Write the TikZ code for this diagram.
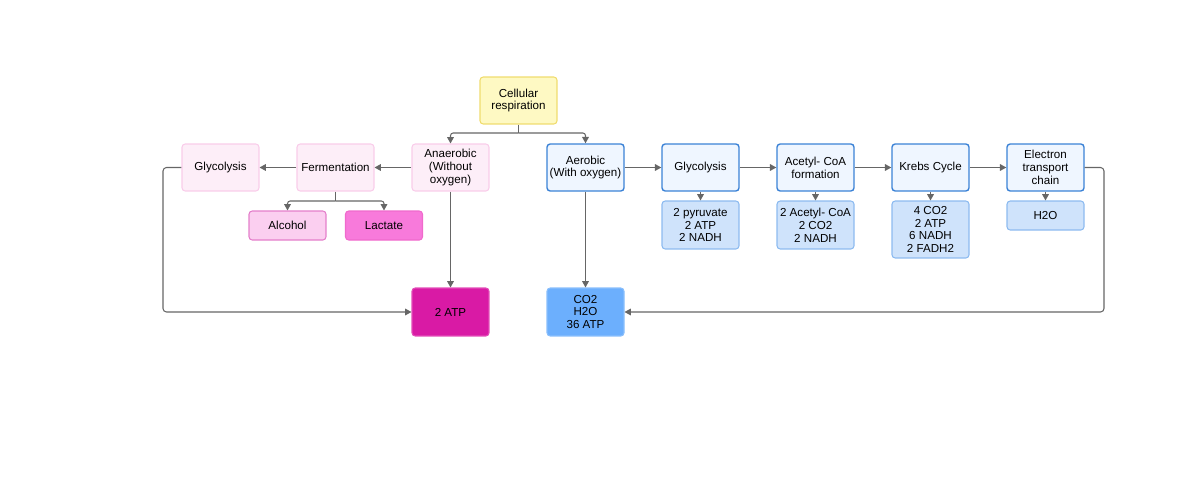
\documentclass[tikz,border=0pt]{standalone}
\usepackage{fontspec}
\setmainfont{Liberation Sans}
\usetikzlibrary{arrows.meta}
\definecolor{ylwF}{HTML}{FEF9C3}
\definecolor{ylwD}{HTML}{F0DC6E}
\definecolor{pkF}{HTML}{FDEEF8}
\definecolor{pkD}{HTML}{F9CDEA}
\definecolor{alcF}{HTML}{FBCFF0}
\definecolor{alcD}{HTML}{E47FCB}
\definecolor{lacF}{HTML}{F87ADB}
\definecolor{lacD}{HTML}{F06ACC}
\definecolor{atpF}{HTML}{D91AA5}
\definecolor{atpD}{HTML}{E34DB8}
\definecolor{blF}{HTML}{EFF6FF}
\definecolor{blD}{HTML}{3B82D6}
\definecolor{sbF}{HTML}{CFE3FB}
\definecolor{sbD}{HTML}{8DBBF0}
\definecolor{coF}{HTML}{6CAFFD}
\definecolor{coD}{HTML}{8ABFFC}
\definecolor{lnC}{HTML}{666666}
\tikzset{
  box/.style={rectangle, rounded corners=1.8pt, align=center, inner sep=1pt,
    minimum width=1.54cm, font=\fontsize{6.6}{7.3}\selectfont, text=black},
  tall/.style={minimum height=0.94cm},
  yel/.style={box, tall, fill=ylwF, draw=ylwD, line width=0.6pt},
  pink/.style={box, tall, fill=pkF, draw=pkD, line width=0.6pt},
  blue/.style={box, tall, fill=blF, draw=blD, line width=0.8pt},
  sub/.style={box, fill=sbF, draw=sbD, line width=0.6pt},
  conn/.style={draw=lnC, line width=0.6pt, -{Triangle[length=3.6pt,width=3.8pt]}},
}
\begin{document}
\begin{tikzpicture}[x=0.02cm,y=-0.02cm]
\useasboundingbox (0,0) rectangle (1200,480);
\node[yel] (cr) at (518.5,100.5) {Cellular\\respiration};
\node[pink] (g1) at (220.5,167.5) {Glycolysis};
\node[pink] (fe) at (335.5,167.5) {Fermentation};
\node[pink] (an) at (450.5,167.5) {Anaerobic\\(Without\\oxygen)};
\node[blue] (ae) at (585.5,167.5) {Aerobic\\(With oxygen)};
\node[blue] (g2) at (700.5,167.5) {Glycolysis};
\node[blue] (ac) at (815.5,167.5) {Acetyl- CoA\\formation};
\node[blue] (kr) at (930.5,167.5) {Krebs Cycle};
\node[blue] (et) at (1045.5,167.5) {Electron\\transport\\chain};
\node[box, minimum height=0.58cm, fill=alcF, draw=alcD, line width=0.6pt] (al) at (287.5,225.5) {Alcohol};
\node[box, minimum height=0.58cm, fill=lacF, draw=lacD, line width=0.6pt] (la) at (384,225.5) {Lactate};
\node[sub, minimum height=0.96cm] (g2o) at (700.5,225) {2 pyruvate\\2 ATP\\2 NADH};
\node[sub, minimum height=0.96cm] (aco) at (815.5,225) {2 Acetyl- CoA\\2 CO2\\2 NADH};
\node[sub, minimum height=1.14cm] (kro) at (930.5,229.5) {4 CO2\\2 ATP\\6 NADH\\2 FADH2};
\node[sub, minimum height=0.58cm] (eto) at (1045.5,215.5) {H2O};
\node[box, minimum height=0.96cm, fill=atpF, draw=atpD, line width=0.6pt] (atp) at (450.5,312) {2 ATP};
\node[box, minimum height=0.96cm, fill=coF, draw=coD, line width=0.6pt] (co) at (585.5,312) {CO2\\H2O\\36 ATP};
% connectors
\coordinate (crj) at (518.5,133);
\draw[draw=lnC, line width=0.6pt] (cr.south) -- (crj);
\draw[conn, rounded corners=1.5pt] (crj) -| (an.north);
\draw[conn, rounded corners=1.5pt] (crj) -| (ae.north);
\draw[conn] (an.west) -- (fe.east);
\draw[conn] (fe.west) -- (g1.east);
\coordinate (fej) at (335.5,201);
\draw[draw=lnC, line width=0.6pt] (fe.south) -- (fej);
\draw[conn, rounded corners=1.5pt] (fej) -| (al.north);
\draw[conn, rounded corners=1.5pt] (fej) -| (la.north);
\coordinate (gl) at (163,167.5);
\draw[conn, rounded corners=2pt] (g1.west) -- (gl) |- (atp.west);
\draw[conn] (an.south) -- (atp.north);
\draw[conn] (ae.east) -- (g2.west);
\draw[conn] (g2.east) -- (ac.west);
\draw[conn] (ac.east) -- (kr.west);
\draw[conn] (kr.east) -- (et.west);
\draw[conn] (ae.south) -- (co.north);
\draw[conn] (g2.south) -- (g2o.north);
\draw[conn] (ac.south) -- (aco.north);
\draw[conn] (kr.south) -- (kro.north);
\draw[conn] (et.south) -- (eto.north);
\coordinate (er) at (1104,167.5);
\draw[conn, rounded corners=2pt] (et.east) -- (er) |- (co.east);
\end{tikzpicture}
\end{document}
